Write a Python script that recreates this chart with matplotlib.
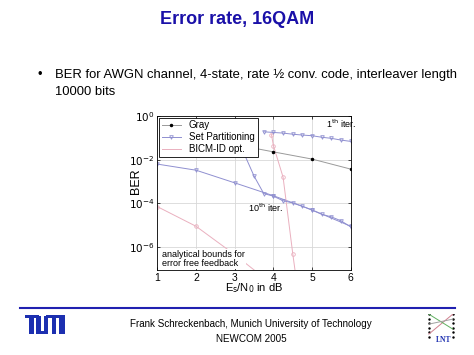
import matplotlib
matplotlib.use("Agg")
import matplotlib.pyplot as plt
import numpy as np
from matplotlib.patches import Rectangle

plt.rcParams['font.family'] = ['Liberation Sans', 'DejaVu Sans']

# --- данные (показатель степени BER, т.е. log10) ---
snr_gray = [3.0, 4.0, 5.0, 6.0]
ber_gray = [-1.3, -1.64, -1.97, -2.43]

snr_sp1 = [3.75, 4.0, 4.25, 4.5, 4.75, 5.0, 5.25, 5.5, 5.75, 6.0]
ber_sp1 = [-0.72, -0.75, -0.78, -0.83, -0.87, -0.9, -0.97, -1.02, -1.1, -1.16]

snr_sp10 = [3.25, 3.5, 3.75, 4.0, 4.25, 4.5, 4.75, 5.0, 5.25, 5.5, 5.75, 6.0]
ber_sp10 = [-1.75, -2.75, -3.55, -3.67, -3.88, -3.98, -4.13, -4.31, -4.5, -4.62, -4.8, -5.08]

snr_sp_bound = [1, 2, 3, 4, 5, 6]
ber_sp_bound = [-2.2, -2.48, -3.06, -3.65, -4.3, -5.05]

snr_id10 = [3.95, 4.0, 4.25, 4.5, 4.6]
ber_id10 = [-0.85, -1.35, -2.8, -6.3, -7.6]

snr_id_bound = [1, 2, 3, 4]
ber_id_bound = [-4.15, -5.05, -6.35, -7.75]

xticks = [1, 2, 3, 4, 5, 6]
yticks = [1e0, 1e-2, 1e-4, 1e-6]

c_gray = '#9a9a9a'
c_sp = '#8f8fd0'
c_id = '#eab0bf'

fig = plt.figure(figsize=(4.74, 3.55), dpi=100)

# --- оформление слайда ---
fig.text(0.5, 0.945, 'Error rate, 16QAM', ha='center', va='center',
         fontsize=13, fontweight='bold', color='#1a10a8')
fig.text(0.08, 0.788, '•', ha='left', va='center', fontsize=9.4)
fig.text(0.116, 0.788, 'BER for AWGN channel, 4-state, rate ½ conv. code, interleaver length',
         ha='left', va='center', fontsize=9.4)
fig.text(0.116, 0.74, '10000 bits', ha='left', va='center', fontsize=9.4)

fig.add_artist(plt.Line2D([0.042, 0.96], [0.132, 0.132], color='#2020b0', lw=1.5))
fig.text(0.53, 0.088, 'Frank Schreckenbach, Munich University of Technology',
         ha='center', va='center', fontsize=7.1)
fig.text(0.53, 0.045, 'NEWCOM 2005', ha='center', va='center', fontsize=7.1)

# логотип TUM (упрощённо)
for (x0, y0, w, h) in [(0.052, 0.103, 0.03, 0.009), (0.062, 0.06, 0.01, 0.05),
                       (0.076, 0.06, 0.01, 0.05), (0.086, 0.06, 0.01, 0.008),
                       (0.092, 0.06, 0.01, 0.05), (0.098, 0.103, 0.04, 0.009),
                       (0.110, 0.06, 0.009, 0.05), (0.124, 0.06, 0.009, 0.05),
                       (0.129, 0.06, 0.009, 0.05)]:
    fig.add_artist(Rectangle((x0, y0), w, h, transform=fig.transFigure,
                             color='#1c2fb0', lw=0))

# логотип LNT (упрощённо)
ax_l = fig.add_axes([0.9, 0.045, 0.06, 0.07])
ax_l.set_xlim(0, 1)
ax_l.set_ylim(0, 1)
ax_l.axis('off')
for yy in np.linspace(0.1, 1.0, 6):
    ax_l.plot([0.08, 0.92], [yy, yy], ls='none', marker='.', ms=1.5, color='k')
ax_l.plot([0.08, 0.92], [0.2, 1.0], color='#d08090', lw=0.7)
ax_l.plot([0.08, 0.92], [1.0, 0.4], color='#60b060', lw=0.7)
ax_l.plot([0.08, 0.92], [0.6, 0.8], color='#a0a0a0', lw=0.7)
ax_l.text(0.6, -0.05, 'LNT', ha='center', va='center', fontsize=5.5,
          fontweight='bold', color='#1c2fb0', family='Liberation Serif')

# --- график ---
ax = fig.add_axes([0.332, 0.239, 0.408, 0.434])

def p(v):
    return [10.0 ** e for e in v]

ax.semilogy(snr_sp_bound, p(ber_sp_bound), color=c_sp, lw=0.7, marker='v', ms=2.6,
            mfc='none', mec=c_sp, mew=0.6)
ax.semilogy(snr_id_bound, p(ber_id_bound), color=c_id, lw=0.7, marker='o', ms=2.6,
            mfc='none', mec=c_id, mew=0.6)
ax.semilogy(snr_id10, p(ber_id10), color=c_id, lw=0.7, marker='o', ms=2.6,
            mfc='none', mec=c_id, mew=0.6)
ax.semilogy(snr_gray, p(ber_gray), color=c_gray, lw=0.7, marker='.', ms=3,
            mfc='k', mec='k', label='Gray')
ax.semilogy(snr_sp1, p(ber_sp1), color=c_sp, lw=0.7, marker='v', ms=2.6,
            mfc='none', mec=c_sp, mew=0.6, label='Set Partitioning')
ax.semilogy(snr_sp10, p(ber_sp10), color=c_sp, lw=0.7, marker='v', ms=2.6,
            mfc='none', mec=c_sp, mew=0.6)
ax.plot([], [], color=c_id, lw=0.7, label='BICM-ID opt.')

ax.set_xlim(1, 6)
ax.set_ylim(10 ** -7.06, 1)
ax.set_xticks(xticks)
ax.set_yticks(yticks)
ax.set_yticklabels([r'$10^{0}$', r'$10^{-2}$', r'$10^{-4}$', r'$10^{-6}$'])
ax.minorticks_off()
ax.tick_params(direction='in', labelsize=7.5, top=True, right=True, length=2.5, width=0.5, pad=2)
ax.grid(True, color='#d8d8d8', lw=0.6)
for s in ax.spines.values():
    s.set_linewidth(0.6)
ax.set_xlabel(r'E$_\mathrm{s}$/N$_\mathrm{0}$ in dB', fontsize=8, labelpad=-1)
ax.set_ylabel('BER', fontsize=9)
ax.yaxis.set_label_coords(-0.08, 0.575)

leg = ax.legend(loc='upper left', fontsize=7, frameon=True, fancybox=False,
                borderpad=0.3, handlelength=2.0, labelspacing=0.2, borderaxespad=0.15,
                handletextpad=0.8)
leg.get_frame().set_edgecolor('k')
leg.get_frame().set_linewidth(0.6)
leg.get_frame().set_alpha(1)

ax.text(5.35, 10 ** -0.35, r'1$^{\mathrm{th}}$ iter.', fontsize=6.5, va='center')
ax.text(3.35, 10 ** -4.2, r'10$^{\mathrm{th}}$ iter.', fontsize=6.5, va='center')
ax.text(1.12, 10 ** -6.55, 'analytical bounds for\nerror free feedback', fontsize=6.5,
        va='center', linespacing=1.1, bbox=dict(fc='white', ec='none', pad=0.5))

fig.savefig('out.png', dpi=100)
